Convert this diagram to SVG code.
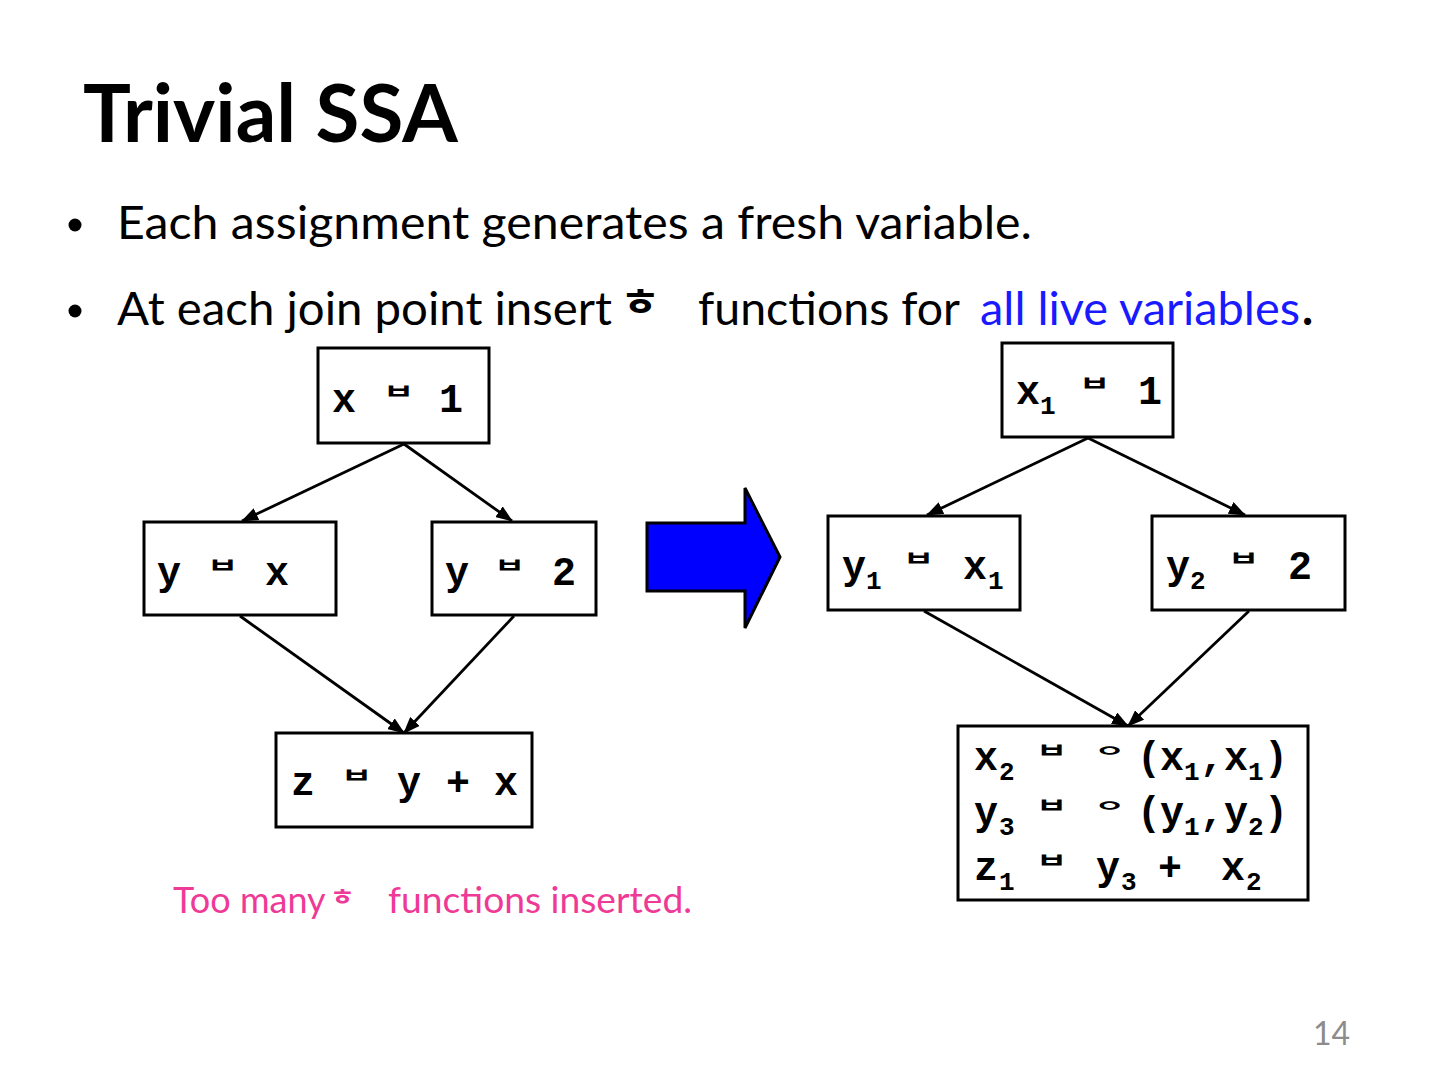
<svg xmlns="http://www.w3.org/2000/svg" width="1440" height="1080" viewBox="0 0 1440 1080">
<defs>
<style>
.prose{font-family:Lato,"Noto Sans",sans-serif;}
.mono{font-family:"Liberation Mono","DejaVu Sans Mono",monospace;font-weight:bold;font-size:40px;fill:#000;}
.sub{font-size:26px;}
.jm{font-family:"Noto Sans CJK KR","Noto Sans CJK SC",sans-serif;font-weight:bold;font-size:34px;}
.box{fill:#fff;stroke:#000;stroke-width:3;}
.edge{fill:none;stroke:#000;stroke-width:2.8;marker-end:url(#ah);}
</style>
<marker id="ah" markerUnits="userSpaceOnUse" markerWidth="17" markerHeight="13" refX="16" refY="6.5" orient="auto">
<path d="M0,0 L17,6.5 L0,13 z" fill="#000"/>
</marker>
</defs>
<rect width="1440" height="1080" fill="#fff"/>

<g id="title">
<text class="prose" x="83" y="142" font-size="80" font-weight="bold" fill="#000">Trivial SSA</text>
</g>

<g id="bullets">
<circle cx="75" cy="225" r="6.5" fill="#000"/>
<circle cx="75" cy="311" r="6.5" fill="#000"/>
<text class="prose" x="117" y="239" font-size="47" fill="#000" textLength="915" lengthAdjust="spacingAndGlyphs">Each assignment generates a fresh variable.</text>
<text class="prose" x="117" y="325" font-size="47" fill="#000" textLength="495" lengthAdjust="spacingAndGlyphs">At each join point insert</text>
<text class="jm" transform="translate(620,316) scale(1,0.85)" style="font-size:44px" fill="#000">ㅎ</text>
<text class="prose" x="698" y="325" font-size="47" fill="#000" textLength="262" lengthAdjust="spacingAndGlyphs">functions for</text>
<text class="prose" x="980" y="325" font-size="47" fill="#1a1aff" textLength="320" lengthAdjust="spacingAndGlyphs">all live variables</text>
<text class="prose" x="1302" y="325" font-size="47" font-weight="bold" fill="#000">.</text>
</g>

<g id="arrow">
<polygon points="647,523 745,523 745,488 780,557 745,628 745,591 647,591" fill="#0000ff" stroke="#000" stroke-width="3" stroke-linejoin="miter"/>
</g>

<g id="connectors">
<line class="edge" x1="404" y1="444" x2="242" y2="521"/>
<line class="edge" x1="404" y1="444" x2="512" y2="521"/>
<line class="edge" x1="240" y1="616" x2="404" y2="733"/>
<line class="edge" x1="514" y1="616" x2="404" y2="733"/>
<line class="edge" x1="1088" y1="438" x2="927" y2="515"/>
<line class="edge" x1="1088" y1="438" x2="1245" y2="515"/>
<line class="edge" x1="924" y1="611" x2="1128" y2="726"/>
<line class="edge" x1="1249" y1="611" x2="1128" y2="726"/>
</g>

<g id="nodeA">
<rect class="box" x="318" y="348" width="171" height="95"/>
<text class="mono" y="412"><tspan x="332">x</tspan><tspan x="439">1</tspan></text>
<text class="jm" transform="translate(383,399) scale(1,0.6)">ㅂ</text>
</g>

<g id="nodeB">
<rect class="box" x="144" y="522" width="192" height="93"/>
<text class="mono" y="585"><tspan x="157">y</tspan><tspan x="265">x</tspan></text>
<text class="jm" transform="translate(207,573) scale(1,0.6)">ㅂ</text>
</g>

<g id="nodeC">
<rect class="box" x="432" y="522" width="164" height="93"/>
<text class="mono" y="585"><tspan x="445">y</tspan><tspan x="552">2</tspan></text>
<text class="jm" transform="translate(494,573) scale(1,0.6)">ㅂ</text>
</g>

<g id="nodeD">
<rect class="box" x="276" y="733" width="256" height="94"/>
<text class="mono" y="795"><tspan x="291">z</tspan><tspan x="397">y</tspan><tspan x="446">+</tspan><tspan x="494">x</tspan></text>
<text class="jm" transform="translate(341,783) scale(1,0.6)">ㅂ</text>
</g>

<g id="nodeE">
<rect class="box" x="1002" y="343" width="171" height="94"/>
<text class="mono" y="404"><tspan x="1016">x</tspan><tspan class="sub" x="1040" y="414">1</tspan><tspan x="1138" y="404">1</tspan></text>
<text class="jm" transform="translate(1079,391) scale(1,0.6)">ㅂ</text>
</g>

<g id="nodeF">
<rect class="box" x="828" y="516" width="192" height="94"/>
<text class="mono" y="579"><tspan x="842">y</tspan><tspan class="sub" x="866" y="589">1</tspan><tspan x="963" y="579">x</tspan><tspan class="sub" x="988" y="589">1</tspan></text>
<text class="jm" transform="translate(903,566) scale(1,0.6)">ㅂ</text>
</g>

<g id="nodeG">
<rect class="box" x="1152" y="516" width="193" height="94"/>
<text class="mono" y="579"><tspan x="1166">y</tspan><tspan class="sub" x="1190" y="589">2</tspan><tspan x="1288" y="579">2</tspan></text>
<text class="jm" transform="translate(1228,566) scale(1,0.6)">ㅂ</text>
</g>

<g id="nodeH">
<rect class="box" x="958" y="726" width="350" height="174"/>
<text class="mono" y="770"><tspan x="974">x</tspan><tspan class="sub" x="999" y="780">2</tspan><tspan x="1137" y="770">(</tspan><tspan x="1160" y="770">x</tspan><tspan class="sub" x="1184" y="780">1</tspan><tspan x="1200" y="770">,</tspan><tspan x="1224" y="770">x</tspan><tspan class="sub" x="1248" y="780">1</tspan><tspan x="1264" y="770">)</tspan></text>
<text class="jm" transform="translate(1036,758) scale(1,0.6)">ㅂ</text>
<text class="jm" transform="translate(1094,756) scale(1,0.45)">ㅇ</text>
<text class="mono" y="825"><tspan x="974">y</tspan><tspan class="sub" x="999" y="835">3</tspan><tspan x="1137" y="825">(</tspan><tspan x="1160" y="825">y</tspan><tspan class="sub" x="1184" y="835">1</tspan><tspan x="1200" y="825">,</tspan><tspan x="1224" y="825">y</tspan><tspan class="sub" x="1248" y="835">2</tspan><tspan x="1264" y="825">)</tspan></text>
<text class="jm" transform="translate(1036,813) scale(1,0.6)">ㅂ</text>
<text class="jm" transform="translate(1094,811) scale(1,0.45)">ㅇ</text>
<text class="mono" y="880"><tspan x="974">z</tspan><tspan class="sub" x="999" y="890">1</tspan><tspan x="1096" y="880">y</tspan><tspan class="sub" x="1121" y="890">3</tspan><tspan x="1158" y="880">+</tspan><tspan x="1221" y="880">x</tspan><tspan class="sub" x="1246" y="890">2</tspan></text>
<text class="jm" transform="translate(1036,868) scale(1,0.6)">ㅂ</text>
</g>

<g id="note">
<text class="prose" x="173" y="913" font-size="36" fill="#ee3a96">Too many</text>
<text class="jm" transform="translate(330,905) scale(1,0.85)" style="font-size:27px" fill="#ee3a96">ㅎ</text>
<text class="prose" x="388" y="913" font-size="36" fill="#ee3a96" textLength="304" lengthAdjust="spacingAndGlyphs">functions inserted.</text>
</g>

<g id="pagenum">
<text class="prose" x="1313" y="1045" font-size="32" fill="#8c8c8c">14</text>
</g>
</svg>
